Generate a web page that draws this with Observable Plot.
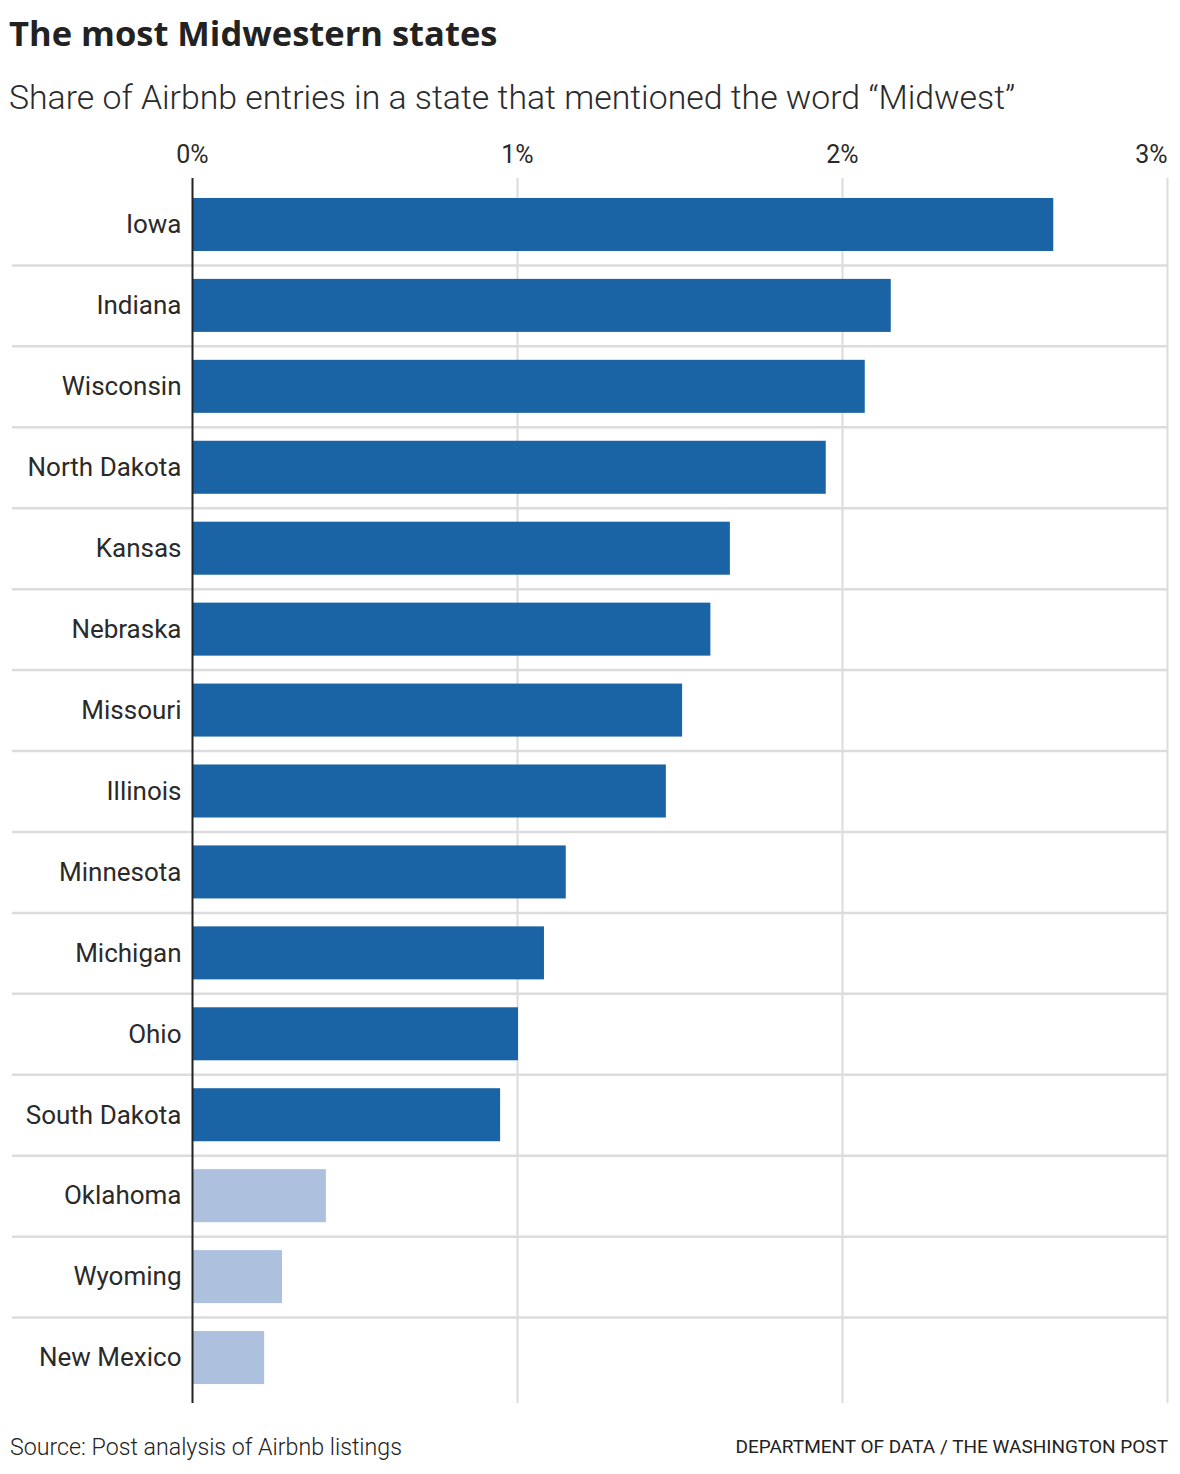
<!DOCTYPE html>
<html>
<head>
<meta charset="utf-8">
<script src="https://cdn.jsdelivr.net/npm/d3@7"></script>
<script src="https://cdn.jsdelivr.net/npm/@observablehq/plot@0.6"></script>
<style>
  html, body { margin: 0; padding: 0; background: #fff; }
  #page { position: relative; width: 1180px; height: 1474px; font-family: Roboto, "Noto Sans", sans-serif; color: #222; }
  #title { position: absolute; left: 9px; top: 13px; line-height: 40px; font-family: "Open Sans", Roboto, sans-serif; font-size: 34.5px; font-weight: 700; letter-spacing: 0px; color: #222; white-space: nowrap; }
  #subtitle { position: absolute; left: 9px; top: 78px; line-height: 40px; font-size: 33.8px; font-weight: 300; color: #2a2a2a; white-space: nowrap; }
  #chart { position: absolute; left: 0; top: 130px; }
  #source { position: absolute; left: 10px; top: 1433px; line-height: 28px; font-size: 23.2px; font-weight: 300; color: #222; white-space: nowrap; }
  #credit { position: absolute; right: 12px; top: 1434px; line-height: 26px; font-size: 19px; font-weight: 400; color: #222; white-space: nowrap; }
</style>
</head>
<body>
<div id="page">
  <div id="title">The most Midwestern states</div>
  <div id="subtitle">Share of Airbnb entries in a state that mentioned the word “Midwest”</div>
  <div id="chart"></div>
  <div id="source">Source: Post analysis of Airbnb listings</div>
  <div id="credit">DEPARTMENT OF DATA / THE WASHINGTON POST</div>
</div>
<script>
const states = ["Iowa", "Indiana", "Wisconsin", "North Dakota", "Kansas", "Nebraska", "Missouri", "Illinois", "Minnesota", "Michigan", "Ohio", "South Dakota", "Oklahoma", "Wyoming", "New Mexico"];
const shares = [2.65, 2.15, 2.07, 1.95, 1.655, 1.595, 1.508, 1.458, 1.15, 1.083, 1.003, 0.948, 0.412, 0.277, 0.222];
const groups = ["Midwest", "Midwest", "Midwest", "Midwest", "Midwest", "Midwest", "Midwest", "Midwest", "Midwest", "Midwest", "Midwest", "Midwest", "Other", "Other", "Other"];
const tickValues = [0, 1, 2, 3];
const tickLabels = ["0%", "1%", "2%", "3%"];

const data = states.map((s, i) => ({state: s, share: shares[i], group: groups[i]}));
const ticks = tickValues.map((v, i) => ({value: v, label: tickLabels[i], last: i === tickValues.length - 1}));

const W = 1180, H = 1290, mTop = 54, mBottom = 22;
const step = (H - mTop - mBottom) / states.length;

const chart = Plot.plot({
  width: W,
  height: H,
  marginLeft: 192,
  marginRight: 13,
  marginTop: mTop,
  marginBottom: mBottom,
  style: {fontFamily: "Roboto, 'Noto Sans', sans-serif", background: "#fff", overflow: "visible"},
  x: {domain: [0, 3], axis: null},
  y: {domain: states, axis: null, paddingInner: 0.345, paddingOuter: 0.1725, round: false},
  color: {domain: ["Midwest", "Other"], range: ["#1a63a5", "#adc1df"]},
  marks: [
    Plot.ruleX(tickValues.slice(1), {x: d => d, stroke: "#dcdcdc", strokeWidth: 2, insetTop: -6, insetBottom: -5}),
    Plot.ruleY(states.slice(0, -1), {y: d => d, dy: step / 2, stroke: "#dcdcdc", strokeWidth: 2.5, insetLeft: -180}),
    Plot.barX(data, {y: "state", x: "share", fill: "group"}),
    Plot.ruleX([tickValues[0]], {x: d => d, stroke: "#222", strokeWidth: 2, insetTop: -6, insetBottom: -5}),
    Plot.text(data, {y: "state", text: "state", frameAnchor: "left", textAnchor: "end", lineAnchor: "middle", dx: -11, fontSize: 26, fill: "#2a2a2a"}),
    Plot.text(ticks.filter(d => !d.last), {x: "value", text: "label", frameAnchor: "top", lineAnchor: "middle", dy: -30, fontSize: 25, fill: "#2a2a2a", textAnchor: "middle"}),
    Plot.text(ticks.filter(d => d.last), {x: "value", text: "label", frameAnchor: "top", lineAnchor: "middle", dy: -30, fontSize: 25, fill: "#2a2a2a", textAnchor: "end"})
  ]
});
document.getElementById("chart").appendChild(chart);
</script>
</body>
</html>
